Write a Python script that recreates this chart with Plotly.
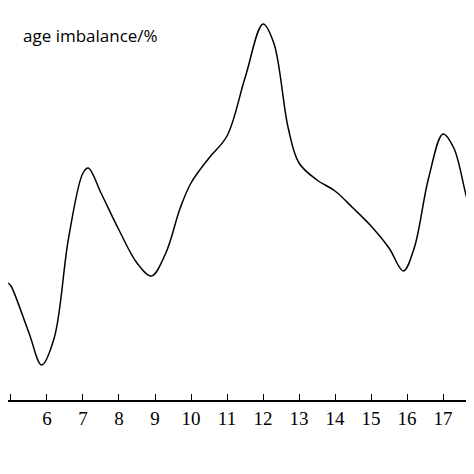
import plotly.graph_objects as go

hours = [4.92, 5, 5.5, 5.85, 6.2, 6.6, 7.0, 7.15, 7.5, 8.0, 8.5, 8.9, 9.3, 9.7, 10.0, 10.5, 11.0, 11.5,
         12.0, 12.3, 12.7, 13.0, 13.5, 14.0, 14.5, 15.0, 15.5, 15.9, 16.2, 16.6, 17.0, 17.3, 17.7, 18.0, 18.08]
imbalance = [1.18, 1.15, 0.68, 0.36, 0.63, 1.63, 2.28, 2.33, 2.08, 1.71, 1.38, 1.25, 1.48, 1.93, 2.18, 2.43,
             2.65, 3.23, 3.77, 3.58, 2.73, 2.38, 2.21, 2.10, 1.93, 1.75, 1.53, 1.30, 1.53, 2.23, 2.67, 2.53,
             1.98, 1.71, 1.68]
tick_vals = list(range(5, 19))

fig = go.Figure(go.Scatter(x=hours, y=imbalance, mode="lines",
                           line=dict(color="black", width=1.5, shape="spline", smoothing=1.0)))
fig.update_layout(
    width=474, height=474, margin=dict(l=0, r=0, t=0, b=0, autoexpand=False),
    paper_bgcolor="white", plot_bgcolor="white", showlegend=False,
    xaxis=dict(range=[4.917, 18.083], tickvals=tick_vals, ticks="inside", ticklen=6,
               tickcolor="black", showline=True, linecolor="black", linewidth=1.5,
               showgrid=False, zeroline=False, anchor="free", position=(474 - 393) / 474,
               automargin=False,
               tickfont=dict(family="Liberation Serif", size=19, color="black")),
    yaxis=dict(range=[-0.81, 3.93], visible=False, automargin=False),
    annotations=[dict(text="age imbalance/%", xref="paper", yref="paper",
                      x=152 / 474, y=1 - 28 / 474, xanchor="right", yanchor="middle",
                      showarrow=False, font=dict(family="Open Sans", size=17, color="black"))],
)
fig.write_html("out.html")
